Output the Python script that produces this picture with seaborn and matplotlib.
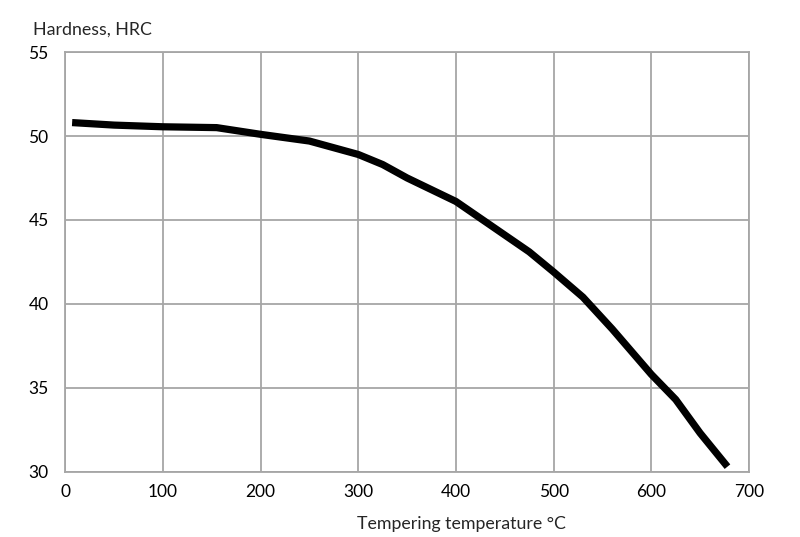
import numpy as np
import pandas as pd
import matplotlib
matplotlib.use("Agg")
import matplotlib.pyplot as plt
import seaborn as sns

temperature = [7, 50, 100, 155, 200, 250, 300, 325, 350, 400, 435, 475, 500, 530, 560, 600, 625, 650, 678]
hardness = [50.8, 50.65, 50.55, 50.5, 50.1, 49.7, 48.9, 48.3, 47.5, 46.1, 44.7, 43.1, 41.9, 40.4, 38.5, 35.8, 34.3, 32.3, 30.3]
xticks = [0, 100, 200, 300, 400, 500, 600, 700]
yticks = [30, 35, 40, 45, 50, 55]

df = pd.DataFrame({'temp': temperature, 'hrc': hardness})

sns.set_style("whitegrid")
plt.rcParams['font.family'] = ['Lato', 'DejaVu Sans']

fig = plt.figure(figsize=(8, 5.37), dpi=100)
ax = fig.add_axes([0.0816, 0.1216, 0.8546, 0.7814])

sns.lineplot(data=df, x='temp', y='hrc', ax=ax, color='black', linewidth=5.2,
             solid_capstyle='butt', solid_joinstyle='round')

ax.set_xlim(0, 700)
ax.set_ylim(30, 55)
ax.set_xticks(xticks)
ax.set_yticks(yticks)
ax.grid(True, color='#a6a6a6', linewidth=1.3)
for s in ax.spines.values():
    s.set_color('#a6a6a6')
    s.set_linewidth(1.3)
ax.tick_params(axis='both', length=0, labelsize=12.5, colors='black')
ax.tick_params(axis='x', pad=9)
ax.tick_params(axis='y', pad=12)

ax.set_xlabel('Tempering temperature °C', fontsize=12.8)
ax.xaxis.set_label_coords(0.58, -0.105)
ax.set_ylabel('')
fig.text(33 / 800, 1 - 30 / 537, 'Hardness, HRC', fontsize=12.8, ha='left', va='center')

fig.savefig('out.png', dpi=100)
